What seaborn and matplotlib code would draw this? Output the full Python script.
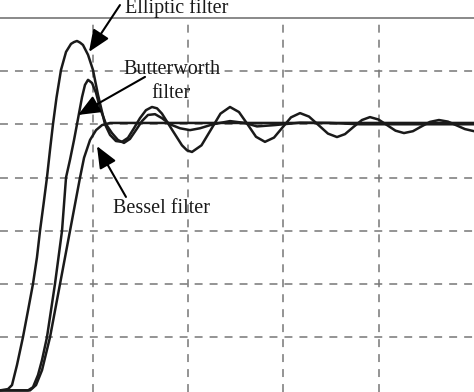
import pandas as pd
import matplotlib
matplotlib.use('Agg')
from matplotlib import pyplot as plt
import seaborn as sns

# step responses (time in grid units, amplitude normalised)
elliptic_t = [0.025, 0.109, 0.151, 0.203, 0.266, 0.319, 0.371, 0.413, 0.445, 0.482,
              0.518, 0.550, 0.581, 0.618, 0.665, 0.718, 0.770, 0.802, 0.833, 0.865,
              0.896, 0.949, 1.001, 1.054, 1.127, 1.180, 1.242, 1.305, 1.368, 1.431,
              1.494, 1.557, 1.620, 1.673, 1.725, 1.830, 1.935, 1.988, 2.040, 2.140,
              2.239, 2.339, 2.439, 2.533, 2.623, 2.712, 2.806, 2.901, 2.990, 3.079,
              3.174, 3.268, 3.368, 3.467, 3.562, 3.646, 3.735, 3.824, 3.908, 3.997,
              4.087, 4.176, 4.265, 4.359, 4.449, 4.538, 4.632, 4.727, 4.816, 4.905,
              5.0]
elliptic_y = [0.0, 0.005, 0.02, 0.095, 0.20, 0.30, 0.40, 0.50, 0.60, 0.70,
              0.80, 0.904, 1.0, 1.10, 1.204, 1.272, 1.302, 1.309, 1.313, 1.307,
              1.298, 1.261, 1.204, 1.110, 1.0, 0.96, 0.937, 0.934, 0.949, 0.985,
              1.023, 1.053, 1.065, 1.060, 1.040, 0.980, 0.921, 0.902, 0.896, 0.921,
              0.980, 1.040, 1.065, 1.046, 1.0, 0.953, 0.934, 0.950, 0.988, 1.026,
              1.042, 1.029, 0.997, 0.965, 0.952, 0.963, 0.990, 1.016, 1.027, 1.018,
              0.997, 0.976, 0.967, 0.974, 0.992, 1.009, 1.016, 1.010, 0.996, 0.982,
              0.974]

butter_t = [0.025, 0.319, 0.371, 0.424, 0.466, 0.518, 0.602, 0.676, 0.718, 0.760,
            0.802, 0.833, 0.886, 0.917, 0.949, 0.991, 1.033, 1.075, 1.138, 1.200,
            1.263, 1.326, 1.389, 1.452, 1.515, 1.578, 1.652, 1.725, 1.809, 1.914,
            2.019, 2.124, 2.260, 2.439, 2.596, 2.722, 2.911, 3.174, 3.488, 3.803,
            5.0]
butter_y = [0.0, 0.0, 0.012, 0.058, 0.114, 0.20, 0.40, 0.60, 0.80, 0.867,
            0.941, 1.0, 1.102, 1.148, 1.167, 1.155, 1.118, 1.061, 1.0, 0.967,
            0.941, 0.930, 0.945, 0.978, 1.012, 1.035, 1.038, 1.023, 1.0, 0.985,
            0.978, 0.985, 1.0, 1.012, 1.005, 0.992, 0.997, 1.006, 1.005, 1.0,
            1.0]

bessel_t = [0.025, 0.340, 0.403, 0.466, 0.550, 0.655, 0.760, 0.865, 0.907, 0.970,
            1.033, 1.096, 1.180, 5.0]
bessel_y = [0.0, 0.0, 0.02, 0.076, 0.20, 0.40, 0.60, 0.80, 0.874, 0.941,
            0.978, 0.997, 1.005, 1.005]

x_grid = [1, 2, 3, 4]
y_grid = [0.2, 0.4, 0.6, 0.8, 1.0, 1.2]
y_top = 1.4


def main():
    df = pd.concat([
        pd.DataFrame({'t': elliptic_t, 'y': elliptic_y, 'filter': 'Elliptic'}),
        pd.DataFrame({'t': butter_t, 'y': butter_y, 'filter': 'Butterworth'}),
        pd.DataFrame({'t': bessel_t, 'y': bessel_y, 'filter': 'Bessel'}),
    ])

    sns.set_theme(style='white')
    plt.rcParams['font.family'] = ['Liberation Serif', 'DejaVu Serif']

    fig = plt.figure(figsize=(4.74, 3.92), dpi=100)
    ax = fig.add_axes([0, 0, 1, 1])
    ax.set_xlim(0.025, 5.0)
    ax.set_ylim(-0.006, 1.467)

    grid_kw = dict(color='#777777', lw=1.1, linestyle=(0, (5.2, 4.6)), zorder=1)
    ax.hlines(y_grid, 0.025, 5.0, **grid_kw)
    ax.vlines(x_grid, -0.006, y_top, **grid_kw)
    ax.axhline(y_top, color='#808080', lw=1.3, zorder=1)

    sns.lineplot(data=df, x='t', y='y', hue='filter', units='filter', estimator=None,
                 sort=False, palette=['#1a1a1a'] * 3, lw=1.8, legend=False, ax=ax, zorder=3)

    arrow_kw = dict(arrowstyle='-|>,head_length=0.95,head_width=0.4', color='black',
                    lw=1.5, shrinkA=0, shrinkB=0, mutation_scale=14)
    ax.annotate('', xy=(0.959, 1.272), xytext=(1.284, 1.448), arrowprops=arrow_kw)
    ax.annotate('', xy=(0.844, 1.035), xytext=(1.547, 1.178), arrowprops=arrow_kw)
    ax.annotate('', xy=(1.043, 0.918), xytext=(1.347, 0.727), arrowprops=arrow_kw)

    txt_kw = dict(fontsize=14.5, color='#1a1a1a', va='baseline')
    ax.text(1.337, 1.4165, 'Elliptic filter', ha='left', **txt_kw)
    ax.text(1.830, 1.189, 'Butterworth', ha='center', **txt_kw)
    ax.text(1.815, 1.099, 'filter', ha='center', **txt_kw)
    ax.text(1.211, 0.667, 'Bessel filter', ha='left', **txt_kw)

    ax.set_axis_off()
    fig.savefig('out.png', dpi=100)


if __name__ == "__main__":
    main()
